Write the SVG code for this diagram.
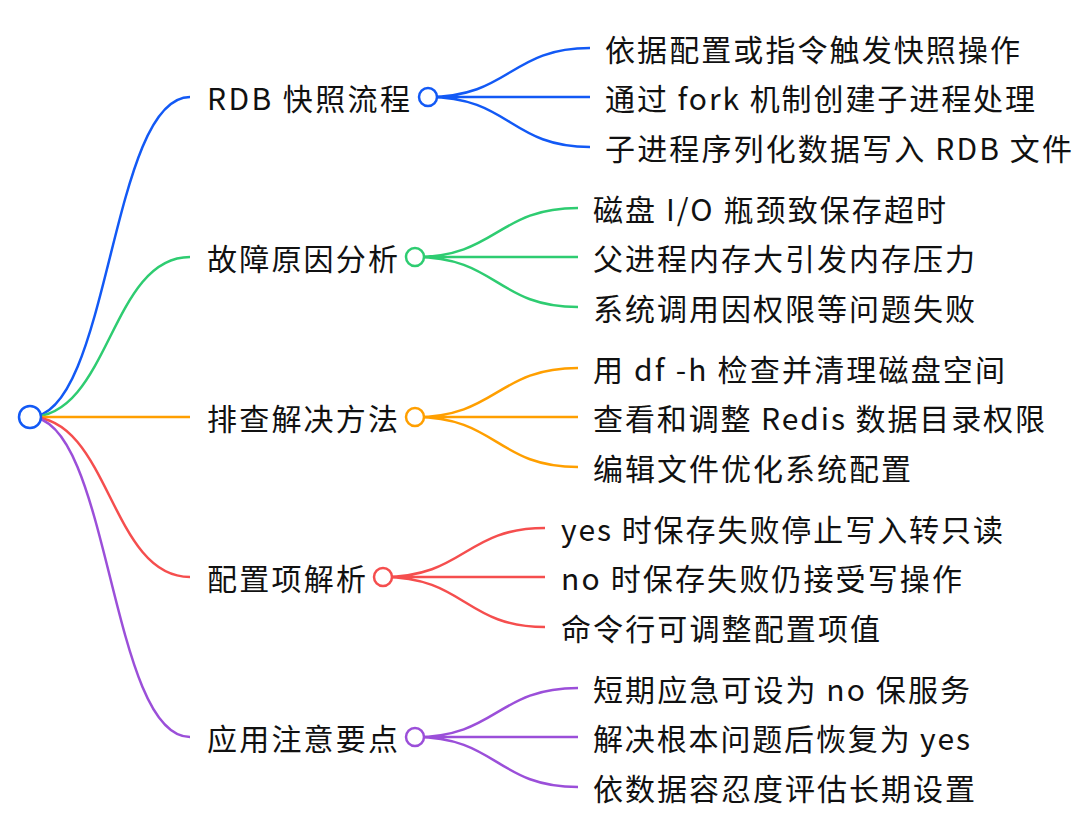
<svg xmlns="http://www.w3.org/2000/svg" width="1085" height="825" viewBox="0 0 1085 825">
<style>
text{font-family:"Noto Sans CJK SC","Noto Sans",sans-serif;font-size:30px;dominant-baseline:central;fill:#111}
path{fill:none;stroke-width:2.5}
circle{fill:#fff;stroke-width:2.5}
.b{stroke:#1259f5}.g{stroke:#2ecc71}.o{stroke:#ff9f00}.r{stroke:#f54e4e}.p{stroke:#9b4fd9}
</style>
<rect width="1085" height="825" fill="#fff"/>
<g id="connectors">
<path class="b" d="M30,417 C110,417 110,97 190,97"/>
<path class="g" d="M30,417 C110,417 110,257 190,257"/>
<path class="o" d="M30,417 L190,417"/>
<path class="r" d="M30,417 C110,417 110,577 190,577"/>
<path class="p" d="M30,417 C110,417 110,737 190,737"/>
<path class="b" d="M428,97 C510,97 510,48 590,48 M428,97 L590,97 M428,97 C510,97 510,147 590,147"/>
<path class="g" d="M415,257 C497,257 497,208 578,208 M415,257 L578,257 M415,257 C497,257 497,307 578,307"/>
<path class="o" d="M415,417 C497,417 497,368 578,368 M415,417 L578,417 M415,417 C497,417 497,467 578,467"/>
<path class="r" d="M383,577 C465,577 465,528 545,528 M383,577 L545,577 M383,577 C465,577 465,627 545,627"/>
<path class="p" d="M415,737 C497,737 497,688 578,688 M415,737 L578,737 M415,737 C497,737 497,787 578,787"/>
</g>
<g id="root"><circle class="b" cx="30" cy="417" r="11"/></g>
<g id="n1"><text x="207" y="97" textLength="203" lengthAdjust="spacing">RDB 快照流程</text><circle class="b" cx="428" cy="97" r="9"/></g>
<g id="n2"><text x="207" y="257" textLength="191" lengthAdjust="spacing">故障原因分析</text><circle class="g" cx="415" cy="257" r="9"/></g>
<g id="n3"><text x="207" y="417" textLength="191" lengthAdjust="spacing">排查解决方法</text><circle class="o" cx="415" cy="417" r="9"/></g>
<g id="n4"><text x="207" y="577" textLength="159" lengthAdjust="spacing">配置项解析</text><circle class="r" cx="383" cy="577" r="9"/></g>
<g id="n5"><text x="207" y="737" textLength="191" lengthAdjust="spacing">应用注意要点</text><circle class="p" cx="415" cy="737" r="9"/></g>
<g id="l1"><text x="605" y="48" textLength="415" lengthAdjust="spacing">依据配置或指令触发快照操作</text></g>
<g id="l2"><text x="605" y="97" textLength="430" lengthAdjust="spacing">通过 fork 机制创建子进程处理</text></g>
<g id="l3"><text x="605" y="147" textLength="467" lengthAdjust="spacing">子进程序列化数据写入 RDB 文件</text></g>
<g id="l4"><text x="593" y="208" textLength="353" lengthAdjust="spacing">磁盘 I/O 瓶颈致保存超时</text></g>
<g id="l5"><text x="593" y="257" textLength="382" lengthAdjust="spacing">父进程内存大引发内存压力</text></g>
<g id="l6"><text x="593" y="307" textLength="382" lengthAdjust="spacing">系统调用因权限等问题失败</text></g>
<g id="l7"><text x="593" y="368" textLength="412" lengthAdjust="spacing">用 df -h 检查并清理磁盘空间</text></g>
<g id="l8"><text x="593" y="417" textLength="452" lengthAdjust="spacing">查看和调整 Redis 数据目录权限</text></g>
<g id="l9"><text x="593" y="467" textLength="318" lengthAdjust="spacing">编辑文件优化系统配置</text></g>
<g id="l10"><text x="561" y="528" textLength="442" lengthAdjust="spacing">yes 时保存失败停止写入转只读</text></g>
<g id="l11"><text x="561" y="577" textLength="401" lengthAdjust="spacing">no 时保存失败仍接受写操作</text></g>
<g id="l12"><text x="561" y="627" textLength="319" lengthAdjust="spacing">命令行可调整配置项值</text></g>
<g id="l13"><text x="593" y="688" textLength="377" lengthAdjust="spacing">短期应急可设为 no 保服务</text></g>
<g id="l14"><text x="593" y="737" textLength="377" lengthAdjust="spacing">解决根本问题后恢复为 yes</text></g>
<g id="l15"><text x="593" y="787" textLength="382" lengthAdjust="spacing">依数据容忍度评估长期设置</text></g>
</svg>
